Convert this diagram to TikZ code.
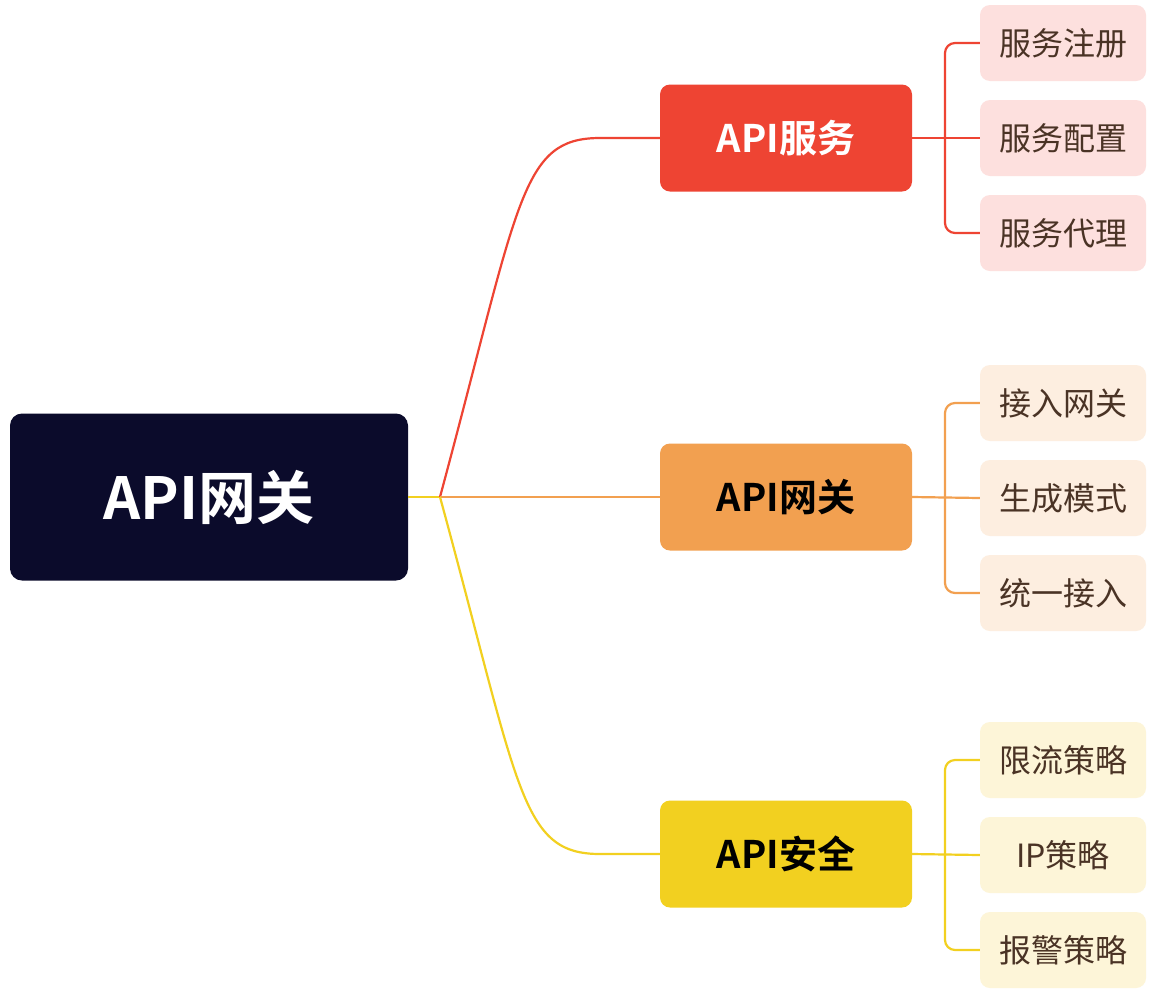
\documentclass[tikz,border=0pt]{standalone}
\usepackage{fontspec}
\newfontfamily\cjk{Noto Sans CJK SC}
\newfontfamily\cjkb{Noto Sans CJK SC Bold}
\begin{document}
\begin{tikzpicture}[x=1pt,y=-1pt,
 root/.style={fill=rootc,rounded corners=12pt,minimum width=398pt,minimum height=167pt,text=white,font=\cjkb\fontsize{58}{60}\selectfont},
 br/.style={rounded corners=10pt,minimum width=252pt,minimum height=107pt,font=\cjkb\fontsize{38}{40}\selectfont},
 leaf/.style={rounded corners=10pt,minimum width=166pt,minimum height=76pt,text=leaftext,font=\cjk\fontsize{32}{34}\selectfont},
 ln/.style={line width=2.2pt,rounded corners=10pt}]
\definecolor{rootc}{HTML}{0B0B2B}
\definecolor{redc}{HTML}{EE4433}
\definecolor{orc}{HTML}{F2A050}
\definecolor{yec}{HTML}{F2D020}
\definecolor{leaftext}{HTML}{4A3325}
\useasboundingbox[fill=white] (0,0) rectangle (1158,994);
\node[root] (root) at (209,497) {API网关};
\node[br,fill=redc,text=white] (b1) at (786,138) {API服务};
\node[br,fill=orc,text=black] (b2) at (786,497) {API网关};
\node[br,fill=yec,text=black] (b3) at (786,854) {API安全};
\coordinate (hub) at (440,497);
\draw[line width=2.2pt,yec] (root.east) -- (hub);
\draw[line width=2.2pt,redc] (hub) .. controls (520,200) and (520,138) .. (600,138) -- (b1.west);
\draw[line width=2.2pt,orc] (hub) -- (b2.west);
\draw[line width=2.2pt,yec] (hub) .. controls (520,790) and (520,854) .. (600,854) -- (b3.west);
\foreach \b/\c/\f/\ya/\yb/\yc/\na/\nb/\nc [count=\i] in {b1/redc/FDE0DE/43/138/233/服务注册/服务配置/服务代理, b2/orc/FDEEE0/403/498/593/接入网关/生成模式/统一接入, b3/yec/FDF5D8/760/855/950/限流策略/IP策略/报警策略}{
 \definecolor{lf}{HTML}{\f}
 \node[leaf,fill=lf] (l\i a) at (1063,\ya) {\na};
 \node[leaf,fill=lf] (l\i b) at (1063,\yb) {\nb};
 \node[leaf,fill=lf] (l\i c) at (1063,\yc) {\nc};
 \coordinate (j\i) at (945,\yb);
 \draw[ln,\c] (\b.east) -- (l\i b.west);
 \draw[ln,\c] (l\i a.west) -| (j\i) |- (l\i c.west);
}
\end{tikzpicture}
\end{document}
